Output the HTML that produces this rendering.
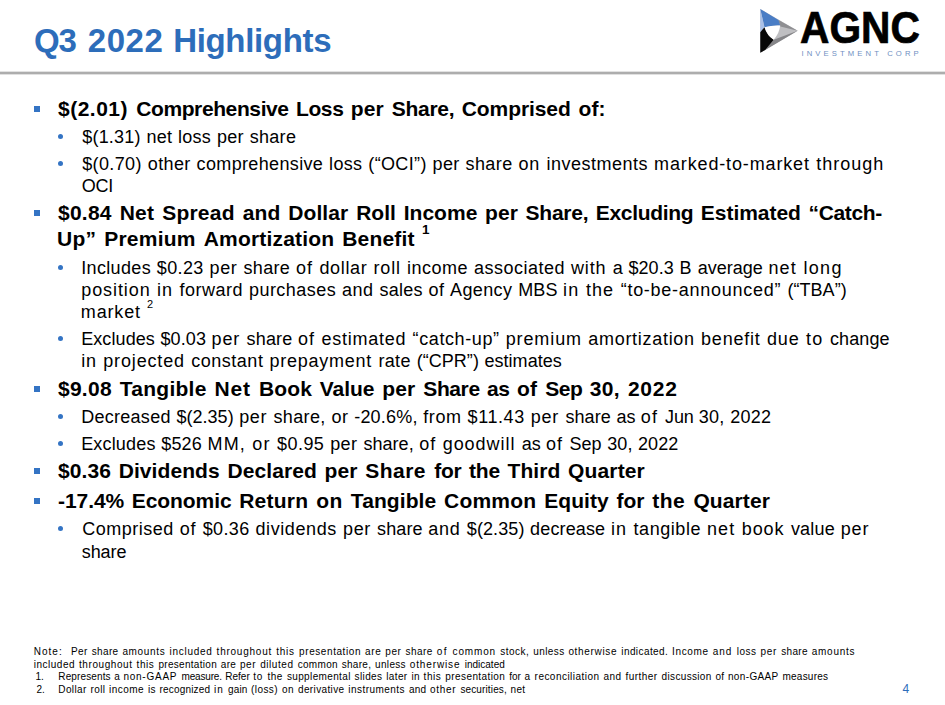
<!DOCTYPE html>
<html><head><meta charset="utf-8">
<style>
html,body{margin:0;padding:0;background:#fff;}
body{width:945px;height:705px;position:relative;overflow:hidden;font-family:"Liberation Sans",sans-serif;}
.t{position:absolute;white-space:nowrap;}
.hr{position:absolute;left:0;top:71px;width:945px;height:4px;background:linear-gradient(to bottom,#E2E2E2 0,#E2E2E2 1px,#ADADAD 1px,#ADADAD 3px,#E0E0E0 3px,#E0E0E0 4px);}
.sq{position:absolute;width:6px;height:6px;background:#3474C4;}
.dot{position:absolute;width:5px;height:5px;border-radius:50%;background:#3474C4;}
svg{position:absolute;left:0;top:0;}
</style></head><body>
<div class="hr"></div>
<svg width="945" height="80" viewBox="0 0 945 80">
 <g transform="translate(756,5) scale(0.07377)">
  <polygon points="58,55 565,350 58,648" fill="#BFBFC2"/>
  <polygon points="300,200 565,350 330,292" fill="#8F8F92"/>
  <polygon points="240,470 565,350 125,609" fill="#858588"/>
  <path d="M58,55 L305,205 L328,278 Q218,273 115,300 Z" fill="#4A7DC5"/>
  <polygon points="58,55 115,300 58,370" fill="#A9C0E8"/>
  <path d="M58,370 L115,300 Q152,415 240,470 L125,609 L58,648 Z" fill="#070707"/>
  <path d="M115,300 Q218,273 328,278 Q316,386 240,470 Q152,415 115,300 Z" fill="#FFFFFF"/>
 </g>
</svg>
<div class="sq" style="left:34.3px;top:106.10px"></div>
<div class="sq" style="left:34.3px;top:210.10px"></div>
<div class="sq" style="left:34.3px;top:386.10px"></div>
<div class="sq" style="left:34.3px;top:468.10px"></div>
<div class="sq" style="left:34.3px;top:498.10px"></div>
<div class="dot" style="left:58.1px;top:134.10px"></div>
<div class="dot" style="left:58.1px;top:161.10px"></div>
<div class="dot" style="left:58.1px;top:265.10px"></div>
<div class="dot" style="left:58.1px;top:336.10px"></div>
<div class="dot" style="left:58.1px;top:414.10px"></div>
<div class="dot" style="left:58.1px;top:441.10px"></div>
<div class="dot" style="left:58.1px;top:526.10px"></div>
<div class="t" id="title1" style="left:33.90px;top:21.06px;font-size:33px;line-height:40px;font-weight:700;color:#2D6DBA;letter-spacing:-1.000px;">Q3</div>
<div class="t" id="title2" style="left:87.70px;top:21.06px;font-size:33px;line-height:40px;font-weight:700;color:#2D6DBA;letter-spacing:0.600px;">2022</div>
<div class="t" id="title3" style="left:173.20px;top:21.06px;font-size:33px;line-height:40px;font-weight:700;color:#2D6DBA;letter-spacing:-0.333px;">Highlights</div>
<div class="t" id="b1_0" style="left:58.00px;top:95.72px;font-size:21px;line-height:25px;font-weight:700;color:#000;letter-spacing:0.490px;">$(2.01)</div>
<div class="t" id="b1_1" style="left:136.20px;top:95.72px;font-size:21px;line-height:25px;font-weight:700;color:#000;letter-spacing:-0.392px;word-spacing:1.900px;">Comprehensive Loss</div>
<div class="t" id="b1_2" style="left:350.80px;top:95.72px;font-size:21px;line-height:25px;font-weight:700;color:#000;letter-spacing:0.145px;">per</div>
<div class="t" id="b1_3" style="left:391.80px;top:95.72px;font-size:21px;line-height:25px;font-weight:700;color:#000;letter-spacing:-0.292px;">Share,</div>
<div class="t" id="b1_4" style="left:461.70px;top:95.72px;font-size:21px;line-height:25px;font-weight:700;color:#000;letter-spacing:-0.073px;">Comprised</div>
<div class="t" id="b1_5" style="left:578.40px;top:95.72px;font-size:21px;line-height:25px;font-weight:700;color:#000;letter-spacing:0.184px;">of:</div>
<div class="t" id="s1_0" style="left:82.20px;top:126.26px;font-size:18px;line-height:22px;font-weight:400;color:#000;letter-spacing:0.220px;word-spacing:0.500px;">$(1.31) net</div>
<div class="t" id="s1_1" style="left:177.90px;top:126.26px;font-size:18px;line-height:22px;font-weight:400;color:#000;letter-spacing:0.297px;">loss</div>
<div class="t" id="s1_2" style="left:216.90px;top:126.26px;font-size:18px;line-height:22px;font-weight:400;color:#000;letter-spacing:0.307px;word-spacing:0.500px;">per share</div>
<div class="t" id="s2_0" style="left:82.20px;top:153.26px;font-size:18px;line-height:22px;font-weight:400;color:#000;letter-spacing:0.381px;word-spacing:0.500px;">$(0.70) other</div>
<div class="t" id="s2_1" style="left:196.60px;top:153.26px;font-size:18px;line-height:22px;font-weight:400;color:#000;letter-spacing:0.349px;word-spacing:0.500px;">comprehensive loss</div>
<div class="t" id="s2_2" style="left:368.30px;top:153.26px;font-size:18px;line-height:22px;font-weight:400;color:#000;letter-spacing:0.352px;">(“OCI”)</div>
<div class="t" id="s2_3" style="left:432.60px;top:153.26px;font-size:18px;line-height:22px;font-weight:400;color:#000;letter-spacing:0.375px;word-spacing:0.500px;">per share</div>
<div class="t" id="s2_4" style="left:518.40px;top:153.26px;font-size:18px;line-height:22px;font-weight:400;color:#000;letter-spacing:0.888px;">on</div>
<div class="t" id="s2_5" style="left:546.60px;top:153.26px;font-size:18px;line-height:22px;font-weight:400;color:#000;letter-spacing:0.496px;">investments</div>
<div class="t" id="s2_6" style="left:654.10px;top:153.26px;font-size:18px;line-height:22px;font-weight:400;color:#000;letter-spacing:0.857px;">marked-to-market</div>
<div class="t" id="s2_7" style="left:816.20px;top:153.26px;font-size:18px;line-height:22px;font-weight:400;color:#000;letter-spacing:1.009px;">through</div>
<div class="t" id="s2b" style="left:81.80px;top:175.26px;font-size:18px;line-height:22px;font-weight:400;color:#000;letter-spacing:-0.300px;">OCI</div>
<div class="t" id="b2_0" style="left:58.00px;top:199.72px;font-size:21px;line-height:25px;font-weight:700;color:#000;letter-spacing:0.230px;word-spacing:1.900px;">$0.84 Net Spread</div>
<div class="t" id="b2_1" style="left:242.70px;top:199.72px;font-size:21px;line-height:25px;font-weight:700;color:#000;letter-spacing:0.104px;">and</div>
<div class="t" id="b2_2" style="left:288.20px;top:199.72px;font-size:21px;line-height:25px;font-weight:700;color:#000;letter-spacing:0.107px;">Dollar</div>
<div class="t" id="b2_3" style="left:356.20px;top:199.72px;font-size:21px;line-height:25px;font-weight:700;color:#000;letter-spacing:0.020px;word-spacing:1.900px;">Roll Income per</div>
<div class="t" id="b2_4" style="left:525.60px;top:199.72px;font-size:21px;line-height:25px;font-weight:700;color:#000;letter-spacing:-0.264px;">Share,</div>
<div class="t" id="b2_5" style="left:595.70px;top:199.72px;font-size:21px;line-height:25px;font-weight:700;color:#000;letter-spacing:-0.299px;">Excluding</div>
<div class="t" id="b2_6" style="left:700.80px;top:199.72px;font-size:21px;line-height:25px;font-weight:700;color:#000;letter-spacing:-0.031px;">Estimated</div>
<div class="t" id="b2_7" style="left:808.60px;top:199.72px;font-size:21px;line-height:25px;font-weight:700;color:#000;letter-spacing:-0.360px;">“Catch-</div>
<div class="t" id="b2b_0" style="left:57.00px;top:225.72px;font-size:21px;line-height:25px;font-weight:700;color:#000;letter-spacing:0.239px;word-spacing:1.900px;">Up” Premium</div>
<div class="t" id="b2b_1" style="left:203.70px;top:225.72px;font-size:21px;line-height:25px;font-weight:700;color:#000;letter-spacing:0.187px;word-spacing:1.900px;">Amortization Benefit</div>
<div class="t" id="s3_0" style="left:81.20px;top:257.26px;font-size:18px;line-height:22px;font-weight:400;color:#000;letter-spacing:0.347px;word-spacing:0.500px;">Includes $0.23</div>
<div class="t" id="s3_1" style="left:209.50px;top:257.26px;font-size:18px;line-height:22px;font-weight:400;color:#000;letter-spacing:0.619px;">per</div>
<div class="t" id="s3_2" style="left:243.50px;top:257.26px;font-size:18px;line-height:22px;font-weight:400;color:#000;letter-spacing:0.328px;">share</div>
<div class="t" id="s3_3" style="left:296.00px;top:257.26px;font-size:18px;line-height:22px;font-weight:400;color:#000;letter-spacing:0.961px;">of</div>
<div class="t" id="s3_4" style="left:319.40px;top:257.26px;font-size:18px;line-height:22px;font-weight:400;color:#000;letter-spacing:0.667px;">dollar</div>
<div class="t" id="s3_5" style="left:373.60px;top:257.26px;font-size:18px;line-height:22px;font-weight:400;color:#000;letter-spacing:0.777px;">roll</div>
<div class="t" id="s3_6" style="left:407.00px;top:257.26px;font-size:18px;line-height:22px;font-weight:400;color:#000;letter-spacing:0.495px;word-spacing:0.500px;">income associated</div>
<div class="t" id="s3_7" style="left:571.00px;top:257.26px;font-size:18px;line-height:22px;font-weight:400;color:#000;letter-spacing:0.837px;">with</div>
<div class="t" id="s3_8" style="left:612.70px;top:257.26px;font-size:18px;line-height:22px;font-weight:400;color:#000;letter-spacing:0.090px;">a</div>
<div class="t" id="s3_9" style="left:628.40px;top:257.26px;font-size:18px;line-height:22px;font-weight:400;color:#000;letter-spacing:0.091px;">$20.3</div>
<div class="t" id="s3_10" style="left:679.50px;top:257.26px;font-size:18px;line-height:22px;font-weight:400;color:#000;letter-spacing:0.340px;">B</div>
<div class="t" id="s3_11" style="left:697.70px;top:257.26px;font-size:18px;line-height:22px;font-weight:400;color:#000;letter-spacing:0.018px;">average</div>
<div class="t" id="s3_12" style="left:768.40px;top:257.26px;font-size:18px;line-height:22px;font-weight:400;color:#000;letter-spacing:1.116px;">net</div>
<div class="t" id="s3_13" style="left:803.40px;top:257.26px;font-size:18px;line-height:22px;font-weight:400;color:#000;letter-spacing:1.326px;">long</div>
<div class="t" id="s3b_0" style="left:81.20px;top:279.26px;font-size:18px;line-height:22px;font-weight:400;color:#000;letter-spacing:0.929px;word-spacing:0.500px;">position in</div>
<div class="t" id="s3b_1" style="left:179.40px;top:279.26px;font-size:18px;line-height:22px;font-weight:400;color:#000;letter-spacing:0.509px;">forward</div>
<div class="t" id="s3b_2" style="left:249.00px;top:279.26px;font-size:18px;line-height:22px;font-weight:400;color:#000;letter-spacing:0.451px;word-spacing:0.500px;">purchases and</div>
<div class="t" id="s3b_3" style="left:379.40px;top:279.26px;font-size:18px;line-height:22px;font-weight:400;color:#000;letter-spacing:0.284px;word-spacing:0.500px;">sales of</div>
<div class="t" id="s3b_4" style="left:450.00px;top:279.26px;font-size:18px;line-height:22px;font-weight:400;color:#000;letter-spacing:0.394px;">Agency</div>
<div class="t" id="s3b_5" style="left:518.30px;top:279.26px;font-size:18px;line-height:22px;font-weight:400;color:#000;letter-spacing:0.045px;">MBS</div>
<div class="t" id="s3b_6" style="left:563.00px;top:279.26px;font-size:18px;line-height:22px;font-weight:400;color:#000;letter-spacing:1.128px;">in</div>
<div class="t" id="s3b_7" style="left:585.90px;top:279.26px;font-size:18px;line-height:22px;font-weight:400;color:#000;letter-spacing:1.067px;">the</div>
<div class="t" id="s3b_8" style="left:620.70px;top:279.26px;font-size:18px;line-height:22px;font-weight:400;color:#000;letter-spacing:0.727px;">“to-be-announced”</div>
<div class="t" id="s3b_9" style="left:787.40px;top:279.26px;font-size:18px;line-height:22px;font-weight:400;color:#000;letter-spacing:0.050px;">(“TBA”)</div>
<div class="t" id="s3c" style="left:80.80px;top:301.26px;font-size:18px;line-height:22px;font-weight:400;color:#000;letter-spacing:0.840px;">market</div>
<div class="t" id="s4_0" style="left:81.20px;top:328.26px;font-size:18px;line-height:22px;font-weight:400;color:#000;letter-spacing:0.087px;word-spacing:0.500px;">Excludes $0.03</div>
<div class="t" id="s4_1" style="left:211.60px;top:328.26px;font-size:18px;line-height:22px;font-weight:400;color:#000;letter-spacing:0.867px;">per</div>
<div class="t" id="s4_2" style="left:246.60px;top:328.26px;font-size:18px;line-height:22px;font-weight:400;color:#000;letter-spacing:0.144px;">share</div>
<div class="t" id="s4_3" style="left:298.00px;top:328.26px;font-size:18px;line-height:22px;font-weight:400;color:#000;letter-spacing:0.994px;">of</div>
<div class="t" id="s4_4" style="left:321.50px;top:328.26px;font-size:18px;line-height:22px;font-weight:400;color:#000;letter-spacing:0.756px;">estimated</div>
<div class="t" id="s4_5" style="left:412.60px;top:328.26px;font-size:18px;line-height:22px;font-weight:400;color:#000;letter-spacing:0.597px;">“catch-up”</div>
<div class="t" id="s4_6" style="left:505.70px;top:328.26px;font-size:18px;line-height:22px;font-weight:400;color:#000;letter-spacing:0.886px;">premium</div>
<div class="t" id="s4_7" style="left:588.30px;top:328.26px;font-size:18px;line-height:22px;font-weight:400;color:#000;letter-spacing:0.704px;">amortization</div>
<div class="t" id="s4_8" style="left:701.00px;top:328.26px;font-size:18px;line-height:22px;font-weight:400;color:#000;letter-spacing:0.805px;">benefit</div>
<div class="t" id="s4_9" style="left:767.00px;top:328.26px;font-size:18px;line-height:22px;font-weight:400;color:#000;letter-spacing:0.863px;">due</div>
<div class="t" id="s4_10" style="left:806.00px;top:328.26px;font-size:18px;line-height:22px;font-weight:400;color:#000;letter-spacing:1.162px;">to</div>
<div class="t" id="s4_11" style="left:830.00px;top:328.26px;font-size:18px;line-height:22px;font-weight:400;color:#000;letter-spacing:0.091px;">change</div>
<div class="t" id="s4b_0" style="left:81.20px;top:350.26px;font-size:18px;line-height:22px;font-weight:400;color:#000;letter-spacing:0.849px;word-spacing:0.500px;">in projected</div>
<div class="t" id="s4b_1" style="left:191.30px;top:350.26px;font-size:18px;line-height:22px;font-weight:400;color:#000;letter-spacing:0.505px;">constant</div>
<div class="t" id="s4b_2" style="left:269.40px;top:350.26px;font-size:18px;line-height:22px;font-weight:400;color:#000;letter-spacing:0.767px;">prepayment</div>
<div class="t" id="s4b_3" style="left:378.40px;top:350.26px;font-size:18px;line-height:22px;font-weight:400;color:#000;letter-spacing:0.356px;">rate</div>
<div class="t" id="s4b_4" style="left:416.70px;top:350.26px;font-size:18px;line-height:22px;font-weight:400;color:#000;letter-spacing:0.037px;word-spacing:0.500px;">(“CPR”) estimates</div>
<div class="t" id="b3_0" style="left:58.00px;top:375.72px;font-size:21px;line-height:25px;font-weight:700;color:#000;letter-spacing:0.254px;word-spacing:1.900px;">$9.08 Tangible</div>
<div class="t" id="b3_1" style="left:214.60px;top:375.72px;font-size:21px;line-height:25px;font-weight:700;color:#000;letter-spacing:0.732px;">Net</div>
<div class="t" id="b3_2" style="left:259.10px;top:375.72px;font-size:21px;line-height:25px;font-weight:700;color:#000;letter-spacing:0.071px;">Book</div>
<div class="t" id="b3_3" style="left:319.70px;top:375.72px;font-size:21px;line-height:25px;font-weight:700;color:#000;letter-spacing:-0.018px;">Value</div>
<div class="t" id="b3_4" style="left:382.20px;top:375.72px;font-size:21px;line-height:25px;font-weight:700;color:#000;letter-spacing:0.168px;">per</div>
<div class="t" id="b3_5" style="left:423.30px;top:375.72px;font-size:21px;line-height:25px;font-weight:700;color:#000;letter-spacing:-0.401px;word-spacing:1.900px;">Share as</div>
<div class="t" id="b3_6" style="left:516.90px;top:375.72px;font-size:21px;line-height:25px;font-weight:700;color:#000;letter-spacing:0.244px;">of</div>
<div class="t" id="b3_7" style="left:545.20px;top:375.72px;font-size:21px;line-height:25px;font-weight:700;color:#000;letter-spacing:-0.438px;">Sep</div>
<div class="t" id="b3_8" style="left:589.70px;top:375.72px;font-size:21px;line-height:25px;font-weight:700;color:#000;letter-spacing:0.316px;">30,</div>
<div class="t" id="b3_9" style="left:627.90px;top:375.72px;font-size:21px;line-height:25px;font-weight:700;color:#000;letter-spacing:0.751px;">2022</div>
<div class="t" id="s5_0" style="left:81.20px;top:406.26px;font-size:18px;line-height:22px;font-weight:400;color:#000;letter-spacing:0.275px;">Decreased</div>
<div class="t" id="s5_1" style="left:176.50px;top:406.26px;font-size:18px;line-height:22px;font-weight:400;color:#000;letter-spacing:0.019px;">$(2.35)</div>
<div class="t" id="s5_2" style="left:239.20px;top:406.26px;font-size:18px;line-height:22px;font-weight:400;color:#000;letter-spacing:0.668px;">per</div>
<div class="t" id="s5_3" style="left:273.40px;top:406.26px;font-size:18px;line-height:22px;font-weight:400;color:#000;letter-spacing:0.376px;word-spacing:0.500px;">share, or</div>
<div class="t" id="s5_4" style="left:354.20px;top:406.26px;font-size:18px;line-height:22px;font-weight:400;color:#000;letter-spacing:0.194px;">-20.6%,</div>
<div class="t" id="s5_5" style="left:423.30px;top:406.26px;font-size:18px;line-height:22px;font-weight:400;color:#000;letter-spacing:0.565px;word-spacing:0.500px;">from $11.43</div>
<div class="t" id="s5_6" style="left:530.80px;top:406.26px;font-size:18px;line-height:22px;font-weight:400;color:#000;letter-spacing:0.768px;">per</div>
<div class="t" id="s5_7" style="left:565.40px;top:406.26px;font-size:18px;line-height:22px;font-weight:400;color:#000;letter-spacing:0.110px;">share</div>
<div class="t" id="s5_8" style="left:616.60px;top:406.26px;font-size:18px;line-height:22px;font-weight:400;color:#000;letter-spacing:-0.104px;">as</div>
<div class="t" id="s5_9" style="left:640.80px;top:406.26px;font-size:18px;line-height:22px;font-weight:400;color:#000;letter-spacing:1.261px;">of</div>
<div class="t" id="s5_10" style="left:665.10px;top:406.26px;font-size:18px;line-height:22px;font-weight:400;color:#000;letter-spacing:-0.207px;">Jun</div>
<div class="t" id="s5_11" style="left:698.80px;top:406.26px;font-size:18px;line-height:22px;font-weight:400;color:#000;letter-spacing:0.233px;word-spacing:0.500px;">30, 2022</div>
<div class="t" id="s6_0" style="left:81.20px;top:433.26px;font-size:18px;line-height:22px;font-weight:400;color:#000;letter-spacing:0.165px;word-spacing:0.500px;">Excludes $526</div>
<div class="t" id="s6_1" style="left:207.60px;top:433.26px;font-size:18px;line-height:22px;font-weight:400;color:#000;letter-spacing:1.052px;">MM,</div>
<div class="t" id="s6_2" style="left:252.30px;top:433.26px;font-size:18px;line-height:22px;font-weight:400;color:#000;letter-spacing:1.096px;">or</div>
<div class="t" id="s6_3" style="left:277.10px;top:433.26px;font-size:18px;line-height:22px;font-weight:400;color:#000;letter-spacing:0.423px;word-spacing:0.500px;">$0.95 per</div>
<div class="t" id="s6_4" style="left:363.40px;top:433.26px;font-size:18px;line-height:22px;font-weight:400;color:#000;letter-spacing:0.052px;">share,</div>
<div class="t" id="s6_5" style="left:419.30px;top:433.26px;font-size:18px;line-height:22px;font-weight:400;color:#000;letter-spacing:0.953px;word-spacing:0.500px;">of goodwill</div>
<div class="t" id="s6_6" style="left:521.80px;top:433.26px;font-size:18px;line-height:22px;font-weight:400;color:#000;letter-spacing:-0.104px;">as</div>
<div class="t" id="s6_7" style="left:546.00px;top:433.26px;font-size:18px;line-height:22px;font-weight:400;color:#000;letter-spacing:0.992px;">of</div>
<div class="t" id="s6_8" style="left:569.50px;top:433.26px;font-size:18px;line-height:22px;font-weight:400;color:#000;letter-spacing:0.042px;">Sep</div>
<div class="t" id="s6_9" style="left:607.20px;top:433.26px;font-size:18px;line-height:22px;font-weight:400;color:#000;letter-spacing:0.093px;">30,</div>
<div class="t" id="s6_10" style="left:638.10px;top:433.26px;font-size:18px;line-height:22px;font-weight:400;color:#000;letter-spacing:0.018px;">2022</div>
<div class="t" id="b4_0" style="left:58.00px;top:457.72px;font-size:21px;line-height:25px;font-weight:700;color:#000;letter-spacing:0.070px;word-spacing:1.900px;">$0.36 Dividends</div>
<div class="t" id="b4_1" style="left:227.50px;top:457.72px;font-size:21px;line-height:25px;font-weight:700;color:#000;letter-spacing:0.072px;">Declared</div>
<div class="t" id="b4_2" style="left:324.60px;top:457.72px;font-size:21px;line-height:25px;font-weight:700;color:#000;letter-spacing:0.071px;">per</div>
<div class="t" id="b4_3" style="left:365.30px;top:457.72px;font-size:21px;line-height:25px;font-weight:700;color:#000;letter-spacing:0.465px;">Share</div>
<div class="t" id="b4_4" style="left:434.20px;top:457.72px;font-size:21px;line-height:25px;font-weight:700;color:#000;letter-spacing:-0.209px;word-spacing:1.900px;">for the</div>
<div class="t" id="b4_5" style="left:507.50px;top:457.72px;font-size:21px;line-height:25px;font-weight:700;color:#000;letter-spacing:0.060px;">Third</div>
<div class="t" id="b4_6" style="left:568.10px;top:457.72px;font-size:21px;line-height:25px;font-weight:700;color:#000;letter-spacing:0.136px;">Quarter</div>
<div class="t" id="b5_0" style="left:58.00px;top:487.72px;font-size:21px;line-height:25px;font-weight:700;color:#000;letter-spacing:-0.074px;word-spacing:1.900px;">-17.4% Economic</div>
<div class="t" id="b5_1" style="left:239.20px;top:487.72px;font-size:21px;line-height:25px;font-weight:700;color:#000;letter-spacing:0.227px;">Return</div>
<div class="t" id="b5_2" style="left:316.20px;top:487.72px;font-size:21px;line-height:25px;font-weight:700;color:#000;letter-spacing:0.399px;">on</div>
<div class="t" id="b5_3" style="left:350.80px;top:487.72px;font-size:21px;line-height:25px;font-weight:700;color:#000;letter-spacing:0.087px;">Tangible</div>
<div class="t" id="b5_4" style="left:444.10px;top:487.72px;font-size:21px;line-height:25px;font-weight:700;color:#000;letter-spacing:0.194px;">Common</div>
<div class="t" id="b5_5" style="left:544.20px;top:487.72px;font-size:21px;line-height:25px;font-weight:700;color:#000;letter-spacing:0.068px;">Equity</div>
<div class="t" id="b5_6" style="left:616.60px;top:487.72px;font-size:21px;line-height:25px;font-weight:700;color:#000;letter-spacing:-0.033px;">for</div>
<div class="t" id="b5_7" style="left:652.20px;top:487.72px;font-size:21px;line-height:25px;font-weight:700;color:#000;letter-spacing:0.490px;">the</div>
<div class="t" id="b5_8" style="left:693.40px;top:487.72px;font-size:21px;line-height:25px;font-weight:700;color:#000;letter-spacing:0.101px;">Quarter</div>
<div class="t" id="s7_0" style="left:82.20px;top:518.26px;font-size:18px;line-height:22px;font-weight:400;color:#000;letter-spacing:0.507px;">Comprised</div>
<div class="t" id="s7_1" style="left:179.80px;top:518.26px;font-size:18px;line-height:22px;font-weight:400;color:#000;letter-spacing:0.791px;">of</div>
<div class="t" id="s7_2" style="left:202.70px;top:518.26px;font-size:18px;line-height:22px;font-weight:400;color:#000;letter-spacing:0.357px;">$0.36</div>
<div class="t" id="s7_3" style="left:255.40px;top:518.26px;font-size:18px;line-height:22px;font-weight:400;color:#000;letter-spacing:0.616px;word-spacing:0.500px;">dividends per</div>
<div class="t" id="s7_4" style="left:377.10px;top:518.26px;font-size:18px;line-height:22px;font-weight:400;color:#000;letter-spacing:0.094px;">share</div>
<div class="t" id="s7_5" style="left:428.20px;top:518.26px;font-size:18px;line-height:22px;font-weight:400;color:#000;letter-spacing:0.764px;">and</div>
<div class="t" id="s7_6" style="left:466.80px;top:518.26px;font-size:18px;line-height:22px;font-weight:400;color:#000;letter-spacing:0.095px;">$(2.35)</div>
<div class="t" id="s7_7" style="left:530.10px;top:518.26px;font-size:18px;line-height:22px;font-weight:400;color:#000;letter-spacing:0.139px;">decrease</div>
<div class="t" id="s7_8" style="left:610.90px;top:518.26px;font-size:18px;line-height:22px;font-weight:400;color:#000;letter-spacing:1.025px;">in</div>
<div class="t" id="s7_9" style="left:633.50px;top:518.26px;font-size:18px;line-height:22px;font-weight:400;color:#000;letter-spacing:0.560px;">tangible</div>
<div class="t" id="s7_10" style="left:707.10px;top:518.26px;font-size:18px;line-height:22px;font-weight:400;color:#000;letter-spacing:1.015px;">net</div>
<div class="t" id="s7_11" style="left:741.70px;top:518.26px;font-size:18px;line-height:22px;font-weight:400;color:#000;letter-spacing:0.933px;">book</div>
<div class="t" id="s7_12" style="left:790.90px;top:518.26px;font-size:18px;line-height:22px;font-weight:400;color:#000;letter-spacing:0.227px;">value</div>
<div class="t" id="s7_13" style="left:840.80px;top:518.26px;font-size:18px;line-height:22px;font-weight:400;color:#000;letter-spacing:0.786px;">per</div>
<div class="t" id="s7b" style="left:81.80px;top:541.26px;font-size:18px;line-height:22px;font-weight:400;color:#000;letter-spacing:-0.100px;">share</div>
<div class="t" id="f1_0" style="left:33.80px;top:646.03px;font-size:10px;line-height:12px;font-weight:400;color:#000;letter-spacing:1.004px;">Note: </div>
<div class="t" id="f1_1" style="left:71.00px;top:646.03px;font-size:10px;line-height:12px;font-weight:400;color:#000;letter-spacing:0.411px;">Per</div>
<div class="t" id="f1_2" style="left:91.70px;top:646.03px;font-size:10px;line-height:12px;font-weight:400;color:#000;letter-spacing:0.365px;">share</div>
<div class="t" id="f1_3" style="left:122.40px;top:646.03px;font-size:10px;line-height:12px;font-weight:400;color:#000;letter-spacing:0.670px;">amounts</div>
<div class="t" id="f1_4" style="left:169.60px;top:646.03px;font-size:10px;line-height:12px;font-weight:400;color:#000;letter-spacing:0.697px;">included</div>
<div class="t" id="f1_5" style="left:216.60px;top:646.03px;font-size:10px;line-height:12px;font-weight:400;color:#000;letter-spacing:0.760px;word-spacing:0.700px;">throughout this</div>
<div class="t" id="f1_6" style="left:299.10px;top:646.03px;font-size:10px;line-height:12px;font-weight:400;color:#000;letter-spacing:0.576px;word-spacing:0.700px;">presentation are per</div>
<div class="t" id="f1_7" style="left:405.60px;top:646.03px;font-size:10px;line-height:12px;font-weight:400;color:#000;letter-spacing:0.451px;">share</div>
<div class="t" id="f1_8" style="left:436.80px;top:646.03px;font-size:10px;line-height:12px;font-weight:400;color:#000;letter-spacing:1.325px;">of</div>
<div class="t" id="f1_9" style="left:452.60px;top:646.03px;font-size:10px;line-height:12px;font-weight:400;color:#000;letter-spacing:0.839px;">common</div>
<div class="t" id="f1_10" style="left:500.30px;top:646.03px;font-size:10px;line-height:12px;font-weight:400;color:#000;letter-spacing:0.485px;">stock,</div>
<div class="t" id="f1_11" style="left:533.30px;top:646.03px;font-size:10px;line-height:12px;font-weight:400;color:#000;letter-spacing:0.387px;">unless</div>
<div class="t" id="f1_12" style="left:568.40px;top:646.03px;font-size:10px;line-height:12px;font-weight:400;color:#000;letter-spacing:0.662px;">otherwise</div>
<div class="t" id="f1_13" style="left:621.30px;top:646.03px;font-size:10px;line-height:12px;font-weight:400;color:#000;letter-spacing:0.410px;">indicated.</div>
<div class="t" id="f1_14" style="left:672.10px;top:646.03px;font-size:10px;line-height:12px;font-weight:400;color:#000;letter-spacing:0.617px;">Income</div>
<div class="t" id="f1_15" style="left:712.70px;top:646.03px;font-size:10px;line-height:12px;font-weight:400;color:#000;letter-spacing:0.982px;">and</div>
<div class="t" id="f1_16" style="left:736.80px;top:646.03px;font-size:10px;line-height:12px;font-weight:400;color:#000;letter-spacing:0.467px;">loss</div>
<div class="t" id="f1_17" style="left:760.40px;top:646.03px;font-size:10px;line-height:12px;font-weight:400;color:#000;letter-spacing:0.740px;">per</div>
<div class="t" id="f1_18" style="left:781.30px;top:646.03px;font-size:10px;line-height:12px;font-weight:400;color:#000;letter-spacing:0.315px;">share</div>
<div class="t" id="f1_19" style="left:811.70px;top:646.03px;font-size:10px;line-height:12px;font-weight:400;color:#000;letter-spacing:0.755px;">amounts</div>
<div class="t" id="f2_0" style="left:33.80px;top:659.03px;font-size:10px;line-height:12px;font-weight:400;color:#000;letter-spacing:0.496px;">included</div>
<div class="t" id="f2_1" style="left:79.00px;top:659.03px;font-size:10px;line-height:12px;font-weight:400;color:#000;letter-spacing:0.571px;">throughout</div>
<div class="t" id="f2_2" style="left:136.60px;top:659.03px;font-size:10px;line-height:12px;font-weight:400;color:#000;letter-spacing:0.551px;">this</div>
<div class="t" id="f2_3" style="left:158.40px;top:659.03px;font-size:10px;line-height:12px;font-weight:400;color:#000;letter-spacing:0.298px;">presentation</div>
<div class="t" id="f2_4" style="left:220.80px;top:659.03px;font-size:10px;line-height:12px;font-weight:400;color:#000;letter-spacing:0.288px;">are</div>
<div class="t" id="f2_5" style="left:239.90px;top:659.03px;font-size:10px;line-height:12px;font-weight:400;color:#000;letter-spacing:0.576px;word-spacing:0.700px;">per diluted</div>
<div class="t" id="f2_6" style="left:297.70px;top:659.03px;font-size:10px;line-height:12px;font-weight:400;color:#000;letter-spacing:0.310px;word-spacing:0.700px;">common share, unless</div>
<div class="t" id="f2_7" style="left:409.70px;top:659.03px;font-size:10px;line-height:12px;font-weight:400;color:#000;letter-spacing:0.882px;">otherwise</div>
<div class="t" id="f2_8" style="left:464.80px;top:659.03px;font-size:10px;line-height:12px;font-weight:400;color:#000;letter-spacing:-0.010px;">indicated</div>
<div class="t" id="f3n" style="left:35.50px;top:671.03px;font-size:10px;line-height:12px;font-weight:400;color:#000;">1.</div>
<div class="t" id="f3_0" style="left:58.30px;top:671.03px;font-size:10px;line-height:12px;font-weight:400;color:#000;letter-spacing:0.125px;">Represents</div>
<div class="t" id="f3_1" style="left:114.30px;top:671.03px;font-size:10px;line-height:12px;font-weight:400;color:#000;letter-spacing:0.028px;">a</div>
<div class="t" id="f3_2" style="left:123.40px;top:671.03px;font-size:10px;line-height:12px;font-weight:400;color:#000;letter-spacing:0.758px;">non-GAAP</div>
<div class="t" id="f3_3" style="left:181.50px;top:671.03px;font-size:10px;line-height:12px;font-weight:400;color:#000;letter-spacing:-0.163px;">measure.</div>
<div class="t" id="f3_4" style="left:225.20px;top:671.03px;font-size:10px;line-height:12px;font-weight:400;color:#000;letter-spacing:0.027px;">Refer</div>
<div class="t" id="f3_5" style="left:253.30px;top:671.03px;font-size:10px;line-height:12px;font-weight:400;color:#000;letter-spacing:0.759px;">to</div>
<div class="t" id="f3_6" style="left:267.40px;top:671.03px;font-size:10px;line-height:12px;font-weight:400;color:#000;letter-spacing:0.526px;">the</div>
<div class="t" id="f3_7" style="left:286.90px;top:671.03px;font-size:10px;line-height:12px;font-weight:400;color:#000;letter-spacing:0.367px;word-spacing:0.700px;">supplemental slides later</div>
<div class="t" id="f3_8" style="left:411.40px;top:671.03px;font-size:10px;line-height:12px;font-weight:400;color:#000;letter-spacing:0.312px;">in</div>
<div class="t" id="f3_9" style="left:423.60px;top:671.03px;font-size:10px;line-height:12px;font-weight:400;color:#000;letter-spacing:0.531px;">this</div>
<div class="t" id="f3_10" style="left:445.30px;top:671.03px;font-size:10px;line-height:12px;font-weight:400;color:#000;letter-spacing:0.414px;">presentation</div>
<div class="t" id="f3_11" style="left:509.20px;top:671.03px;font-size:10px;line-height:12px;font-weight:400;color:#000;letter-spacing:0.010px;">for</div>
<div class="t" id="f3_12" style="left:524.40px;top:671.03px;font-size:10px;line-height:12px;font-weight:400;color:#000;letter-spacing:0.580px;">a</div>
<div class="t" id="f3_13" style="left:534.60px;top:671.03px;font-size:10px;line-height:12px;font-weight:400;color:#000;letter-spacing:0.463px;">reconciliation</div>
<div class="t" id="f3_14" style="left:603.40px;top:671.03px;font-size:10px;line-height:12px;font-weight:400;color:#000;letter-spacing:0.459px;">and</div>
<div class="t" id="f3_15" style="left:625.40px;top:671.03px;font-size:10px;line-height:12px;font-weight:400;color:#000;letter-spacing:0.476px;">further</div>
<div class="t" id="f3_16" style="left:661.60px;top:671.03px;font-size:10px;line-height:12px;font-weight:400;color:#000;letter-spacing:0.338px;">discussion</div>
<div class="t" id="f3_17" style="left:715.50px;top:671.03px;font-size:10px;line-height:12px;font-weight:400;color:#000;letter-spacing:0.192px;">of</div>
<div class="t" id="f3_18" style="left:727.90px;top:671.03px;font-size:10px;line-height:12px;font-weight:400;color:#000;letter-spacing:0.368px;">non-GAAP</div>
<div class="t" id="f3_19" style="left:782.50px;top:671.03px;font-size:10px;line-height:12px;font-weight:400;color:#000;letter-spacing:0.227px;">measures</div>
<div class="t" id="f4n" style="left:36.50px;top:684.03px;font-size:10px;line-height:12px;font-weight:400;color:#000;">2.</div>
<div class="t" id="f4_0" style="left:58.30px;top:684.03px;font-size:10px;line-height:12px;font-weight:400;color:#000;letter-spacing:0.385px;">Dollar</div>
<div class="t" id="f4_1" style="left:90.60px;top:684.03px;font-size:10px;line-height:12px;font-weight:400;color:#000;letter-spacing:0.335px;">roll</div>
<div class="t" id="f4_2" style="left:109.10px;top:684.03px;font-size:10px;line-height:12px;font-weight:400;color:#000;letter-spacing:0.454px;">income</div>
<div class="t" id="f4_3" style="left:148.00px;top:684.03px;font-size:10px;line-height:12px;font-weight:400;color:#000;letter-spacing:0.228px;">is</div>
<div class="t" id="f4_4" style="left:159.40px;top:684.03px;font-size:10px;line-height:12px;font-weight:400;color:#000;letter-spacing:0.199px;">recognized</div>
<div class="t" id="f4_5" style="left:214.00px;top:684.03px;font-size:10px;line-height:12px;font-weight:400;color:#000;letter-spacing:0.942px;">in</div>
<div class="t" id="f4_6" style="left:228.10px;top:684.03px;font-size:10px;line-height:12px;font-weight:400;color:#000;letter-spacing:0.121px;">gain</div>
<div class="t" id="f4_7" style="left:251.10px;top:684.03px;font-size:10px;line-height:12px;font-weight:400;color:#000;letter-spacing:0.410px;">(loss)</div>
<div class="t" id="f4_8" style="left:281.90px;top:684.03px;font-size:10px;line-height:12px;font-weight:400;color:#000;letter-spacing:0.496px;">on</div>
<div class="t" id="f4_9" style="left:298.00px;top:684.03px;font-size:10px;line-height:12px;font-weight:400;color:#000;letter-spacing:0.365px;">derivative</div>
<div class="t" id="f4_10" style="left:348.30px;top:684.03px;font-size:10px;line-height:12px;font-weight:400;color:#000;letter-spacing:0.452px;">instruments</div>
<div class="t" id="f4_11" style="left:408.90px;top:684.03px;font-size:10px;line-height:12px;font-weight:400;color:#000;letter-spacing:0.232px;">and</div>
<div class="t" id="f4_12" style="left:430.00px;top:684.03px;font-size:10px;line-height:12px;font-weight:400;color:#000;letter-spacing:0.687px;">other</div>
<div class="t" id="f4_13" style="left:460.40px;top:684.03px;font-size:10px;line-height:12px;font-weight:400;color:#000;letter-spacing:0.133px;">securities,</div>
<div class="t" id="f4_14" style="left:510.50px;top:684.03px;font-size:10px;line-height:12px;font-weight:400;color:#000;letter-spacing:0.333px;">net</div>
<div class="t" id="pg" style="left:902.60px;top:682.34px;font-size:12px;line-height:14px;font-weight:400;color:#2D6DBA;">4</div>
<div class="t" id="sup1" style="left:422.00px;top:221.82px;font-size:13.5px;line-height:16px;font-weight:700;color:#000;">1</div>
<div class="t" id="sup2" style="left:147.00px;top:298.19px;font-size:11px;line-height:13px;font-weight:400;color:#000;">2</div>
<div class="t" id="agnc" style="left:800.40px;top:1.05px;font-size:44px;line-height:53px;font-weight:700;color:#000;-webkit-text-stroke:0.7px #000;transform:scaleX(0.9249);transform-origin:0 0;">AGNC</div>
<div class="t" id="corp" style="left:801.40px;top:49.43px;font-size:7.7px;line-height:9px;font-weight:400;color:#6F8FC2;letter-spacing:3.114px;">INVESTMENT CORP</div>
</body></html>
